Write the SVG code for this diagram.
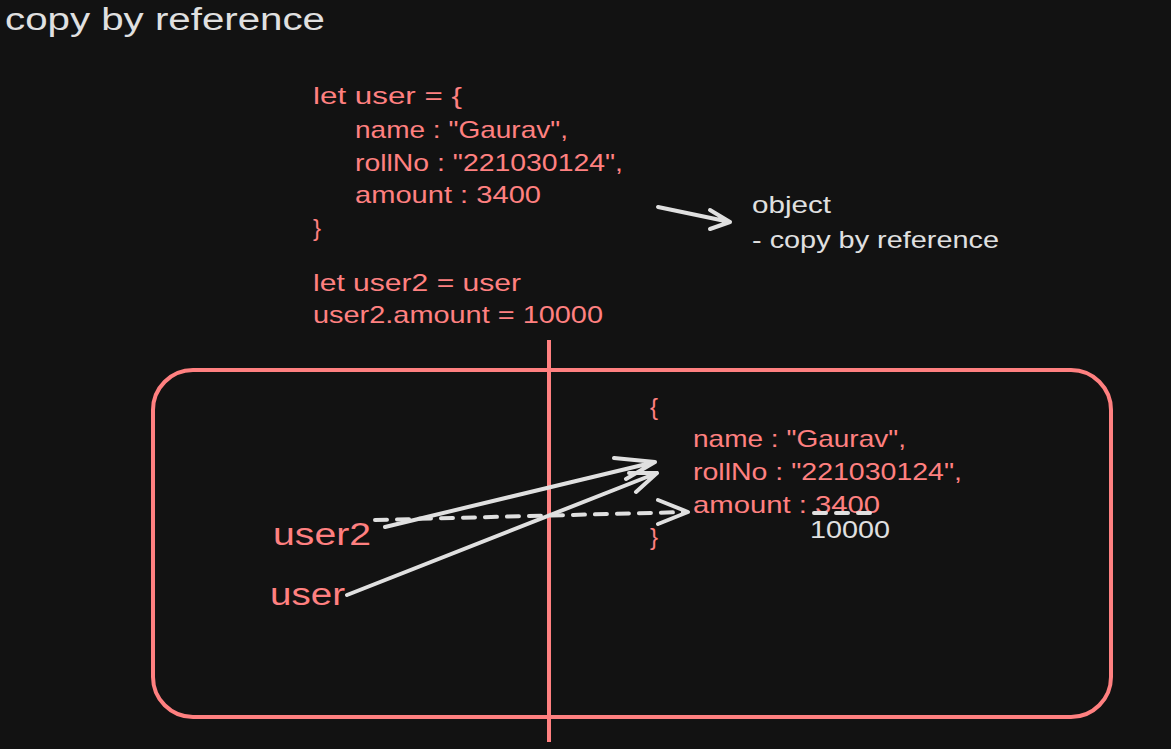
<svg xmlns="http://www.w3.org/2000/svg" width="1171" height="749" viewBox="0 0 1171 749">
<style>
.p{fill:#ff8080;font-family:"Liberation Sans",sans-serif;font-size:24px}
.w{fill:#e0e0e0;font-family:"Liberation Sans",sans-serif;font-size:24px}
.a{stroke:#e0e0e0;stroke-width:4;fill:none;stroke-linecap:round;stroke-linejoin:round}
</style>
<rect width="1171" height="749" fill="#121212"/>
<text class="w" x="5" y="30" style="font-size:31px" textLength="320" lengthAdjust="spacingAndGlyphs">copy by reference</text>
<g id="code">
<text class="p" x="313" y="104" textLength="149" lengthAdjust="spacingAndGlyphs">let user = {</text>
<text class="p" x="355" y="138" textLength="213" lengthAdjust="spacingAndGlyphs">name : "Gaurav",</text>
<text class="p" x="355" y="171" textLength="268" lengthAdjust="spacingAndGlyphs">rollNo : "221030124",</text>
<text class="p" x="355" y="203" textLength="186" lengthAdjust="spacingAndGlyphs">amount : 3400</text>
<text class="p" x="313" y="236">}</text>
<text class="p" x="313" y="291" textLength="208" lengthAdjust="spacingAndGlyphs">let user2 = user</text>
<text class="p" x="313" y="323" textLength="290" lengthAdjust="spacingAndGlyphs">user2.amount = 10000</text>
</g>
<g id="note">
<text class="w" x="752" y="213" textLength="79" lengthAdjust="spacingAndGlyphs">object</text>
<text class="w" x="752" y="248" textLength="247" lengthAdjust="spacingAndGlyphs">- copy by reference</text>
</g>
<g id="memory">
<rect x="153" y="370" width="958" height="347" rx="40" fill="none" stroke="#ff8080" stroke-width="4"/>
<line x1="549" y1="340" x2="549" y2="742" stroke="#ff8080" stroke-width="4"/>
</g>
<g id="object">
<text class="p" x="650" y="415">{</text>
<text class="p" x="693" y="447" textLength="213" lengthAdjust="spacingAndGlyphs">name : "Gaurav",</text>
<text class="p" x="693" y="480" textLength="269" lengthAdjust="spacingAndGlyphs">rollNo : "221030124",</text>
<text class="p" x="693" y="513" textLength="187" lengthAdjust="spacingAndGlyphs">amount : 3400</text>
<text class="p" x="650" y="545">}</text>
<text class="w" x="810" y="538" textLength="80" lengthAdjust="spacingAndGlyphs">10000</text>
<line x1="814" y1="513" x2="880" y2="513" stroke="#e0e0e0" stroke-width="4" stroke-dasharray="12 10" stroke-linecap="round"/>
</g>
<g id="vars">
<text class="p" x="273" y="545" style="font-size:31px" textLength="98" lengthAdjust="spacingAndGlyphs">user2</text>
<text class="p" x="270" y="605" style="font-size:31px" textLength="75" lengthAdjust="spacingAndGlyphs">user</text>
</g>
<g id="connectors">
<path class="a" d="M658 207 L730 222 M710 210 L730 222 L710 229"/>
<path class="a" d="M385 527 L655 462 M614 458 L655 462 L626 479"/>
<path class="a" d="M347 595 L657 473 M629 473 L657 473 L636 492"/>
<path class="a" d="M375 520 L686 512" stroke-dasharray="12 10"/>
<path class="a" d="M658 500 L688 512 L658 524"/>
</g>
</svg>
